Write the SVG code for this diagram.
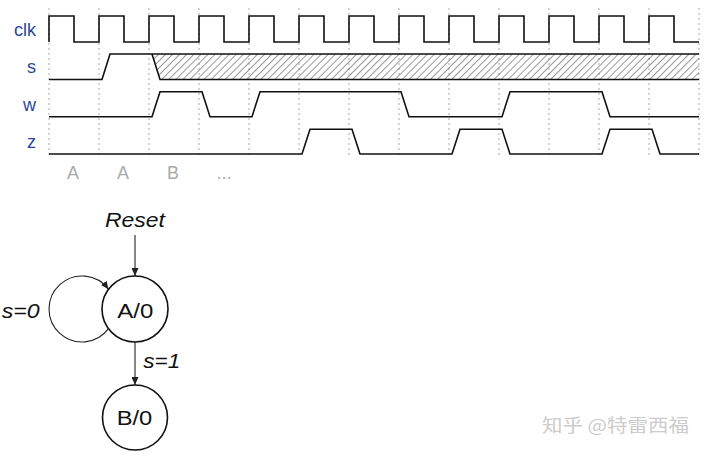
<svg xmlns="http://www.w3.org/2000/svg" width="708" height="457" viewBox="0 0 708 457">
<style>
.sig{font-family:"Liberation Sans",Arial,sans-serif;font-size:18px;fill:#2a469c;text-anchor:end}
.st{font-family:"Liberation Sans",Arial,sans-serif;font-size:18px;fill:#aaaaaa;text-anchor:middle}
.wave{fill:none;stroke:#111;stroke-width:1.6;stroke-linejoin:miter}
.grid{stroke:#aaaaaa;stroke-width:1;stroke-dasharray:2,3}
.node{fill:#fff;stroke:#111;stroke-width:1.6}
.lbl{font-family:"Liberation Sans",Arial,sans-serif;font-size:20px;fill:#111}
.it{font-style:italic}
.edge{fill:none;stroke:#222;stroke-width:1.1}
.wm{font-family:"Noto Sans CJK SC","Liberation Sans",sans-serif;font-size:18px;fill:#cccccc}
</style>
<defs>
<pattern id="hatch" patternUnits="userSpaceOnUse" width="5" height="5" patternTransform="rotate(45)">
<line x1="0" y1="0" x2="0" y2="5" stroke="#333" stroke-width="1"/>
</pattern>
<marker id="arr" markerUnits="userSpaceOnUse" markerWidth="8" markerHeight="7" refX="8" refY="3.5" orient="auto">
<path d="M0,0 L8,3.5 L0,7 z" fill="#222"/>
</marker>
</defs>
<rect width="708" height="457" fill="#fff"/>
<g id="grid">
<line class="grid" x1="49" y1="8" x2="49" y2="158"/>
<line class="grid" x1="99" y1="8" x2="99" y2="158"/>
<line class="grid" x1="149" y1="8" x2="149" y2="158"/>
<line class="grid" x1="199" y1="8" x2="199" y2="158"/>
<line class="grid" x1="249" y1="8" x2="249" y2="158"/>
<line class="grid" x1="299" y1="8" x2="299" y2="158"/>
<line class="grid" x1="349" y1="8" x2="349" y2="158"/>
<line class="grid" x1="399" y1="8" x2="399" y2="158"/>
<line class="grid" x1="449" y1="8" x2="449" y2="158"/>
<line class="grid" x1="499" y1="8" x2="499" y2="158"/>
<line class="grid" x1="549" y1="8" x2="549" y2="158"/>
<line class="grid" x1="599" y1="8" x2="599" y2="158"/>
<line class="grid" x1="649" y1="8" x2="649" y2="158"/>
<line class="grid" x1="699" y1="8" x2="699" y2="158"/>
</g>
<g id="signal-labels">
<text class="sig" x="36" y="36">clk</text>
<text class="sig" x="36" y="73">s</text>
<text class="sig" x="36" y="111">w</text>
<text class="sig" x="36" y="147.5">z</text>
</g>
<g id="waves">
<path class="wave" d="M49,42 V16 H74 V42 H99 V16 H124 V42 H149 V16 H174 V42 H199 V16 H224 V42 H249 V16 H274 V42 H299 V16 H324 V42 H349 V16 H374 V42 H399 V16 H424 V42 H449 V16 H474 V42 H499 V16 H524 V42 H549 V16 H574 V42 H599 V16 H624 V42 H649 V16 H674 V42 H699"/>
<polygon points="152,54 699,54 699,79.5 160,79.5" fill="url(#hatch)" stroke="none"/>
<path class="wave" d="M49,79.5 H102 L110,54 H152 L160,79.5 H699 M152,54 H699"/>
<path class="wave" d="M49,116.7 H152 L160,91.7 H202 L210,116.7 H252 L260,91.7 H401 L409,116.7 H502 L510,91.7 H602 L610,116.7 H699"/>
<path class="wave" d="M49,154 H302 L310,129.3 H352 L360,154 H452 L460,129.3 H502 L510,154 H602 L610,129.3 H652 L660,154 H699"/>
</g>
<g id="state-labels">
<text class="st" x="73" y="179">A</text>
<text class="st" x="123" y="179">A</text>
<text class="st" x="173" y="179">B</text>
<text class="st" x="224" y="179">...</text>
</g>
<g id="connectors">
<line class="edge" x1="135" y1="235" x2="135" y2="276" marker-end="url(#arr)"/>
<path class="edge" d="M108.5,328.7 A33,33 0 1,1 108.5,289.3" marker-end="url(#arr)"/>
<line class="edge" x1="135" y1="342" x2="135" y2="385" marker-end="url(#arr)"/>
<text class="lbl it" x="105" y="226.7" textLength="60" lengthAdjust="spacingAndGlyphs">Reset</text>
<text class="lbl it" x="1.7" y="318.3" textLength="38" lengthAdjust="spacingAndGlyphs">s=0</text>
<text class="lbl it" x="143.3" y="368" textLength="37" lengthAdjust="spacingAndGlyphs">s=1</text>
</g>
<g id="node-A">
<circle class="node" cx="135" cy="309" r="33"/>
<text class="lbl" x="117.3" y="317.7" textLength="36" lengthAdjust="spacingAndGlyphs">A/0</text>
</g>
<g id="node-B">
<circle class="node" cx="135" cy="417.5" r="32.5"/>
<text class="lbl" x="116.7" y="425" textLength="35.6" lengthAdjust="spacingAndGlyphs">B/0</text>
</g>
<text class="wm" x="542" y="432" textLength="147" lengthAdjust="spacingAndGlyphs">知乎 @特雷西福</text>
</svg>
